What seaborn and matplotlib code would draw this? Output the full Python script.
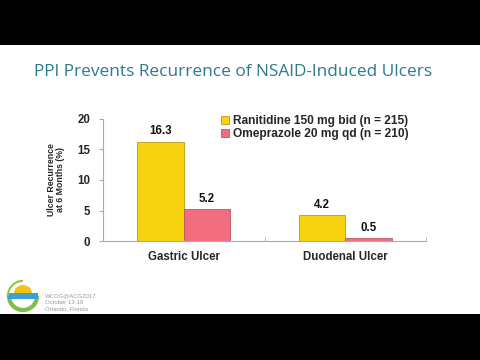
import matplotlib
matplotlib.use("Agg")
import matplotlib.pyplot as plt
import seaborn as sns
import pandas as pd
from matplotlib.patches import Rectangle, Wedge, Patch

sns.set_style("white")
plt.rcParams['font.family'] = ['Liberation Sans', 'DejaVu Sans']

categories = ["Gastric Ulcer", "Duodenal Ulcer"]
series_names = ["Ranitidine 150 mg bid (n = 215)", "Omeprazole 20 mg qd (n = 210)"]
ranitidine = [16.3, 4.2]
omeprazole = [5.2, 0.5]
yticks = [0, 5, 10, 15, 20]

df = pd.DataFrame({
    "cat": categories * 2,
    "series": [series_names[0]] * 2 + [series_names[1]] * 2,
    "val": ranitidine + omeprazole,
})

W, H = 480, 360
fig = plt.figure(figsize=(4.8, 3.6), dpi=100, facecolor="black")
fig.add_artist(Rectangle((0, (H - 314) / H), 1, (314 - 45) / H, transform=fig.transFigure,
                         facecolor="white", edgecolor="none", zorder=0))

fig.text(233 / W, 1 - 72 / H, "PPI Prevents Recurrence of NSAID-Induced Ulcers",
         ha="center", va="center", fontsize=12.4, color="#2C7B8C", family=["Open Sans", "DejaVu Sans"])

ax = fig.add_axes([103 / W, 119 / H, 323 / W, 122 / H])
ax.set_facecolor("none")
palette = {series_names[0]: "#F7D20E", series_names[1]: "#F26D80"}
sns.barplot(data=df, x="cat", y="val", hue="series", order=categories, hue_order=series_names,
            palette=palette, width=0.575, saturation=1, ax=ax, legend=False)
edges = ["#B89A20", "#B85A60"]
for i, cont in enumerate(ax.containers):
    for b in cont:
        b.set_edgecolor(edges[i])
        b.set_linewidth(0.6)
    ax.bar_label(cont, labels=[f"{v:.1f}" for v in cont.datavalues], padding=3,
                 fontsize=8.3, fontweight="bold", color="#111111")

ax.set_xlim(-0.5, 1.5)
ax.set_ylim(0, 20)
ax.set_yticks(yticks)
ax.set_yticklabels([str(t) for t in yticks], fontsize=8.3, fontweight="bold")
ax.set_xticklabels(categories, fontsize=8.3, fontweight="bold")
ax.set_xlabel("")
ax.set_ylabel("Ulcer Recurrence\nat 6 Months (%)", fontsize=6.3, fontweight="bold", labelpad=9,
              linespacing=1.05)
for s in ["top", "right"]:
    ax.spines[s].set_visible(False)
for s in ["left", "bottom"]:
    ax.spines[s].set_color("#AAAAAA")
    ax.spines[s].set_linewidth(0.8)
ax.tick_params(axis="y", length=3, color="#AAAAAA", pad=6, left=True)
ax.tick_params(axis="x", length=0, pad=7)
ax.set_xticks([0.5, 1.5], minor=True)
ax.tick_params(axis="x", which="minor", length=3, direction="in", color="#AAAAAA", bottom=True)

handles = [Patch(facecolor=palette[n], edgecolor=e, linewidth=0.6) for n, e in zip(series_names, edges)]
fig.legend(handles, series_names, loc="upper left", bbox_to_anchor=(221 / W, 1 - 115 / H),
           frameon=False, prop={"weight": "bold", "size": 8.6},
           handlelength=0.7, handleheight=0.7, handletextpad=0.3, labelspacing=0.1,
           borderpad=0, borderaxespad=0)

# logo approximation
lax = fig.add_axes([4 / W, (H - 313) / H, 38 / W, 34 / H])
lax.set_xlim(-1, 1)
lax.set_ylim(-1, 1)
lax.set_aspect("equal")
lax.axis("off")
lax.add_patch(Wedge((0, 0), 0.95, 180, 360, width=0.25, facecolor="#7DBF4A", edgecolor="none"))
lax.add_patch(Wedge((0, 0.1), 0.55, 0, 180, facecolor="#F6C21A", edgecolor="none"))
lax.add_patch(Rectangle((-0.9, -0.2), 1.8, 0.35, facecolor="#3AA0D8", edgecolor="none"))
lax.add_patch(Wedge((0, 0), 0.95, 90, 180, width=0.12, facecolor="#8CC63F", edgecolor="none"))

fig.text(45 / W, 1 - 302 / H, "WCOG@ACG2017\nOctober 13-18\nOrlando, Florida",
         ha="left", va="center", fontsize=4.3, color="#9A9A9A", linespacing=1.4)

fig.savefig("out.png", dpi=100, facecolor="black")
